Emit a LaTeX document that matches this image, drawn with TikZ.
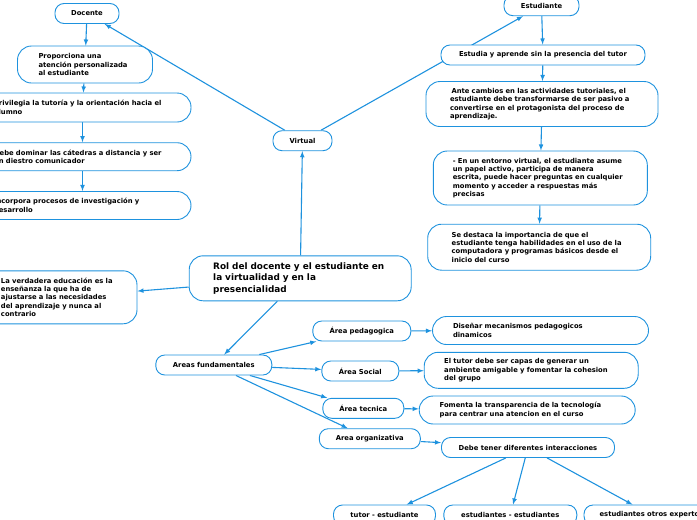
\documentclass[tikz,border=0pt]{standalone}
\usepackage{fontspec}
\setmainfont{DejaVu Sans}
\usepackage{xcolor}
\usetikzlibrary{arrows,backgrounds}
\definecolor{mapblue}{RGB}{30,146,222}
\tikzset{>=latex}
\tikzset{
	idea/.style={draw=mapblue, line width=0.9pt, fill=white, rounded corners=9pt,
			font=\fontsize{6.8}{8.4}\selectfont\bfseries, align=left, inner ysep=2pt},
	bigidea/.style={idea, rounded corners=14pt},
	link/.style={->, draw=mapblue, line width=1.1pt}
}

\begin{document}
\begin{tikzpicture}[x=1pt,y=-1pt]
		\useasboundingbox (0,0) rectangle (697,520);

		\node[idea, minimum width=64pt, minimum height=20pt] (docente) at (87,13.5) {Docente};
		\node[bigidea, text width=93pt, inner xsep=21pt, minimum height=37pt] (atencion) at (85,64.5) {Proporciona una\\atención personalizada\\al estudiante};
		\node[bigidea, text width=177pt, inner xsep=20pt, minimum height=29pt] (tutoria) at (82.5,107.5) {Privilegia la tutoría y la orientación hacia el\\alumno};
		\node[bigidea, text width=177pt, inner xsep=20pt, minimum height=28pt] (catedras) at (82.5,156.7) {Debe dominar las cátedras a distancia y ser\\un diestro comunicador};
		\node[bigidea, text width=177pt, inner xsep=20pt, minimum height=28pt] (investigacion) at (82.5,205.5) {Incorpora procesos de investigación y\\desarrollo};

		\node[idea, minimum width=59pt, minimum height=20pt] (virtual) at (302.5,140.7) {Virtual};

		\node[idea, minimum width=75pt, minimum height=20pt] (estudiante) at (541.5,5.7) {Estudiante};
		\node[idea, minimum width=204pt, minimum height=20pt] (aprende) at (543,55) {Estudia y aprende sin la presencia del tutor};
		\node[bigidea, text width=184pt, inner xsep=24pt, minimum height=45pt] (cambios) at (542,104) {\hspace{1.5pt}Ante cambios en las actividades tutoriales, el\\estudiante debe transformarse de ser pasivo a\\convertirse en el protagonista del proceso de\\aprendizaje.};
		\node[bigidea, text width=175pt, inner xsep=19.5pt, minimum height=54pt] (entorno) at (540.3,178) {- En un entorno virtual, el estudiante asume\\un papel activo, participa de manera\\escrita, puede hacer preguntas en cualquier\\momento y acceder a respuestas más\\precisas};
		\node[bigidea, text width=175pt, inner xsep=24pt, minimum height=46pt] (habilidades) at (539.2,247.2) {Se destaca la importancia de que el\\estudiante tenga habilidades en el uso de la\\computadora y programas básicos desde el\\inicio del curso};

		\node[bigidea, text width=174pt, inner xsep=24pt, minimum height=45pt, font=\fontsize{8.9}{11.5}\selectfont\bfseries] (rol) at (300.2,278.3) {Rol del docente y el estudiante en\\la virtualidad y en la\\presencialidad};
		\node[bigidea, text width=115pt, inner xsep=21pt, minimum height=53pt] (educacion) at (58.5,297.3) {La verdadera educación es la\\enseñanza la que ha de\\ajustarse a las necesidades\\del aprendizaje y nunca al\\contrario};

		\node[idea, minimum width=116pt, minimum height=20pt] (areas) at (213.8,365) {Areas fundamentales};
		\node[idea, minimum width=98pt, minimum height=20pt] (pedagogica) at (361.8,331) {Área pedagogica};
		\node[idea, minimum width=77pt, minimum height=20pt] (social) at (360.3,371) {Área Social};
		\node[idea, minimum width=81pt, minimum height=20pt] (tecnica) at (363.3,408.3) {Área tecnica};
		\node[idea, minimum width=101pt, minimum height=20pt] (organizativa) at (369.8,438.7) {Area organizativa};

		\node[bigidea, text width=175pt, inner xsep=20.5pt, minimum height=28pt] (mecanismos) at (540.5,330.5) {Diseñar mecanismos pedagogicos\\dinamicos};
		\node[bigidea, text width=174pt, inner xsep=20pt, minimum height=36pt] (ambiente) at (531.2,370.3) {El tutor debe ser capas de generar un\\ambiente amigable y fomentar la cohesion\\del grupo};
		\node[bigidea, text width=175pt, inner xsep=20.5pt, minimum height=28pt] (transparencia) at (527.2,410) {Fomenta la transparencia de la tecnología\\para centrar una atencion en el curso};
		\node[idea, minimum width=173pt, minimum height=20pt] (interacciones) at (528,447.5) {Debe tener diferentes interacciones};

		\node[idea, minimum width=102pt, minimum height=20pt] (tutorest) at (384.5,515) {tutor - estudiante};
		\node[idea, minimum width=133pt, minimum height=20pt] (estest) at (510.3,515) {estudiantes - estudiantes};
		\node[idea, minimum width=135pt, minimum height=20pt] (expertos) at (651.5,515) {estudiantes otros expertos};

		\begin{pgfonlayer}{background}
			\draw[link] (rol) -- (virtual);
			\draw[link] (rol) -- (educacion);
			\draw[link] (rol) -- (areas);

			\draw[link] (virtual) -- (docente);
			\draw[link] (virtual) -- (estudiante);

			\draw[link] (docente) -- (atencion);
			\draw[link] (atencion) -- (tutoria);
			\draw[link] (tutoria) -- (catedras);
			\draw[link] (catedras) -- (investigacion);

			\draw[link] (estudiante) -- (aprende);
			\draw[link] (aprende) -- (cambios);
			\draw[link] (cambios) -- (entorno);
			\draw[link] (entorno) -- (habilidades);

			\foreach \area in {pedagogica,social,tecnica,organizativa}
			\draw[link] (areas) -- (\area);
			\draw[link] (pedagogica) -- (mecanismos);
			\draw[link] (social) -- (ambiente);
			\draw[link] (tecnica) -- (transparencia);
			\draw[link] (organizativa) -- (interacciones);

			\foreach \kind in {tutorest,estest,expertos}
			\draw[link] (interacciones) -- (\kind);
		\end{pgfonlayer}

	\end{tikzpicture}
\end{document}
